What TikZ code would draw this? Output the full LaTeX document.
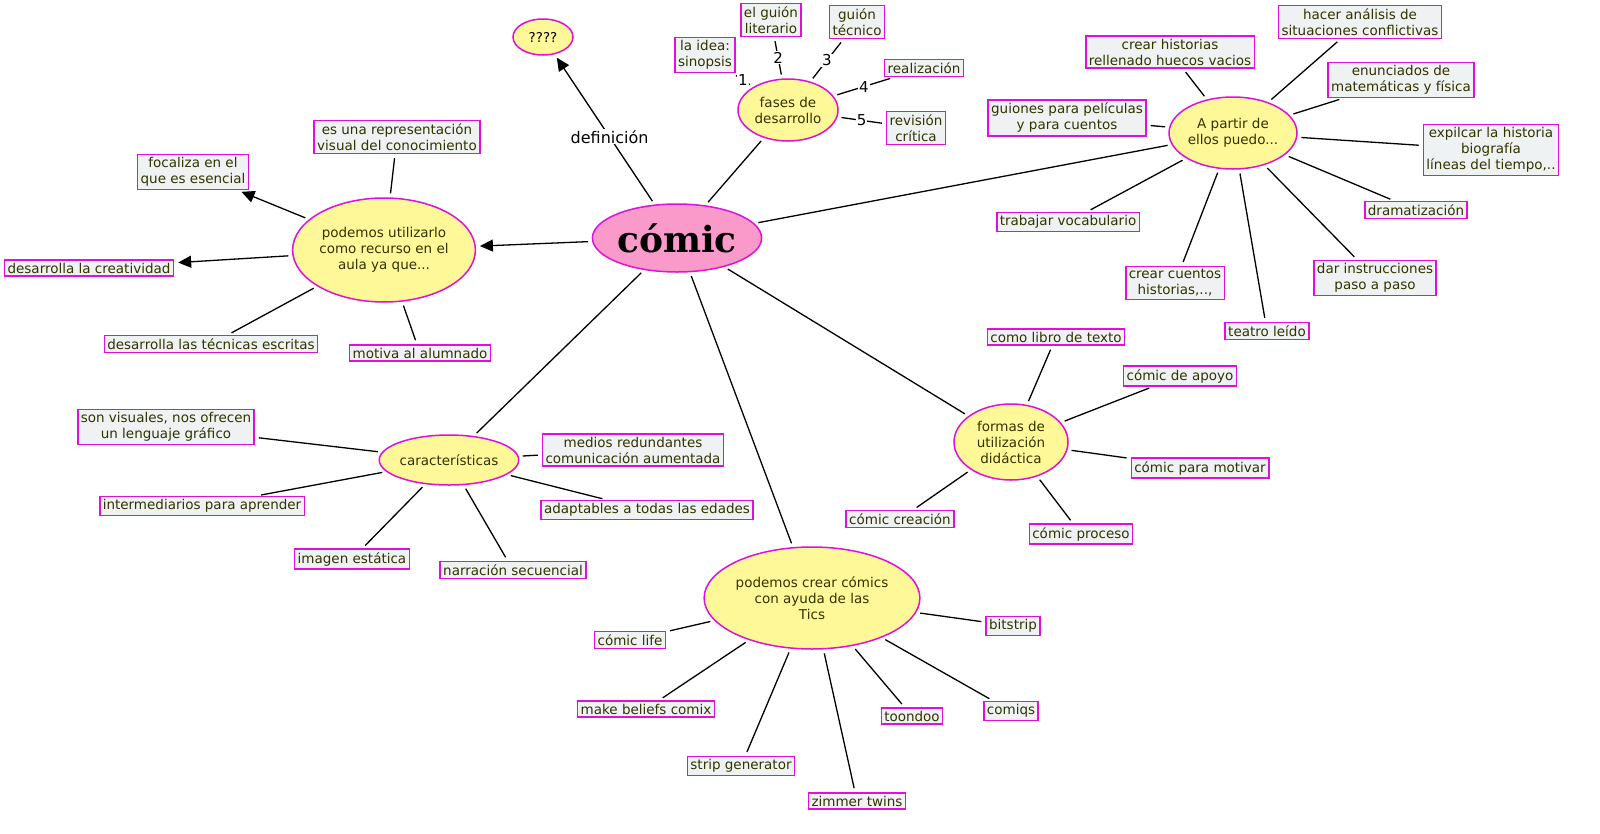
\documentclass[tikz,border=0pt]{standalone}
\usepackage{fontspec}
\setmainfont{DejaVu Sans}
\newfontfamily\comicfont{DejaVu Serif}
\usetikzlibrary{arrows.meta,shapes.geometric}
\definecolor{bx}{HTML}{EEF2F2}
\definecolor{mg}{HTML}{E010D8}
\definecolor{el}{HTML}{FFF899}
\definecolor{pk}{HTML}{F99ACB}
\definecolor{tx}{HTML}{333300}
\begin{document}
\begin{tikzpicture}[x=1pt,y=-1pt,
 box/.style={draw=mg,line width=1.5pt,fill=bx,text=tx,align=center,font=\fontsize{13.5}{16}\selectfont,inner sep=3pt},
 ell/.style={ellipse,draw=mg,line width=1.5pt,fill=el,text=tx,align=center,font=\fontsize{13.5}{16}\selectfont,inner sep=0pt},
 ln/.style={line width=1.3pt,shorten <=4pt,shorten >=4pt},
 ar/.style={ln,-{Triangle[length=13pt,width=12pt]}},
 num/.style={fill=white,inner sep=1pt,font=\fontsize{15}{17}\selectfont}]
\useasboundingbox (0,0) rectangle (1600,833);
\fill[white] (0,0) rectangle (1600,833);
% center
\node[ell,fill=pk,minimum width=135pt,minimum height=68pt,text=black,font=\comicfont\bfseries\fontsize{36}{38}\selectfont] (c) at (677,238) {cómic};
\node[ell,minimum width=60pt,minimum height=36pt,text=black] (q) at (543,37) {????};
\node[ell,minimum width=100pt,minimum height=62pt] (f) at (788,110) {fases de\\desarrollo};
\node[box] (f1) at (705,55) {la idea:\\sinopsis};
\node[box] (f2) at (771,20) {el guión\\literario};
\node[box] (f3) at (857,22) {guión\\técnico};
\node[box] (f4) at (924,68) {realización};
\node[box] (f5) at (916,128) {revisión\\crítica};
\node[ell,minimum width=128pt,minimum height=72pt] (a) at (1233,133) {A partir de\\ellos puedo...};
\node[box] (a1) at (1170,52) {crear historias\\rellenado huecos vacios};
\node[box] (a2) at (1360,22) {hacer análisis de\\situaciones conflictivas};
\node[box] (a3) at (1401,80) {enunciados de\\matemáticas y física};
\node[box] (a4) at (1067,118) {guiones para películas\\y para cuentos};
\node[box] (a5) at (1491,150) {expilcar la historia\\biografía\\líneas del tiempo,..};
\node[box] (a6) at (1068,222) {trabajar vocabulario};
\node[box] (a7) at (1416,210) {dramatización};
\node[box] (a8) at (1175,283) {crear cuentos\\historias,..,};
\node[box] (a9) at (1375,278) {dar instrucciones\\paso a paso};
\node[box] (a10) at (1267,331) {teatro leído};
\node[ell,minimum width=180pt,minimum height=104pt] (u) at (384,250) {podemos utilizarlo\\como recurso en el\\aula ya que...};
\node[box] (u1) at (397,137) {es una representación\\visual del conocimiento};
\node[box] (u2) at (193,172) {focaliza en el\\que es esencial};
\node[box] (u3) at (89,268) {desarrolla la creatividad};
\node[box] (u4) at (211,344) {desarrolla las técnicas escritas};
\node[box] (u5) at (420,353) {motiva al alumnado};
\node[ell,minimum width=124pt,minimum height=50pt] (k) at (449,460) {características};
\node[box] (k1) at (166,427) {son visuales, nos ofrecen\\un lenguaje gráfico};
\node[box] (k2) at (633,450) {medios redundantes\\comunicación aumentada};
\node[box] (k3) at (202,506) {intermediarios para aprender};
\node[box] (k4) at (647,510) {adaptables a todas las edades};
\node[box] (k5) at (352,559) {imagen estática};
\node[box] (k6) at (513,570) {narración secuencial};
\node[ell,minimum width=114pt,minimum height=76pt] (d) at (1011,442) {formas de\\utilización\\didáctica};
\node[box] (d1) at (1056,337) {como libro de texto};
\node[box] (d2) at (1180,376) {cómic de apoyo};
\node[box] (d3) at (1200,468) {cómic para motivar};
\node[box] (d4) at (900,519) {cómic creación};
\node[box] (d5) at (1081,534) {cómic proceso};
\node[ell,minimum width=200pt,minimum height=102pt] (t) at (812,598) {podemos crear cómics\\con ayuda de las\\Tics};
\node[box] (t1) at (630,640) {cómic life};
\node[box] (t2) at (1013,626) {bitstrip};
\node[box] (t3) at (646,709) {make beliefs comix};
\node[box] (t4) at (912,716) {toondoo};
\node[box] (t5) at (1011,711) {comiqs};
\node[box] (t6) at (741,766) {strip generator};
\node[box] (t7) at (857,801) {zimmer twins};
% edges
\draw[ar] (c) -- node[num,font=\fontsize{16}{18}\selectfont,pos=0.45] {definición} (q);
\draw[ar] (c) -- (u);
\draw[ar] (u) -- (u2);
\draw[ar] (u) -- (u3);
\foreach \n in {u1,u4,u5} \draw[ln] (u) -- (\n);
\foreach \n in {f,a,k,d,t} \draw[ln] (c) -- (\n);
\foreach \n/\l in {f1/1,f2/2,f3/3,f4/4,f5/5} \draw[ln] (f) -- node[num] {\l} (\n);
\foreach \n in {a1,a2,a3,a4,a5,a6,a7,a8,a9,a10} \draw[ln] (a) -- (\n);
\foreach \n in {k1,k2,k3,k4,k5,k6} \draw[ln] (k) -- (\n);
\foreach \n in {d1,d2,d3,d4,d5} \draw[ln] (d) -- (\n);
\foreach \n in {t1,t2,t3,t4,t5,t6,t7} \draw[ln] (t) -- (\n);
\end{tikzpicture}
\end{document}
